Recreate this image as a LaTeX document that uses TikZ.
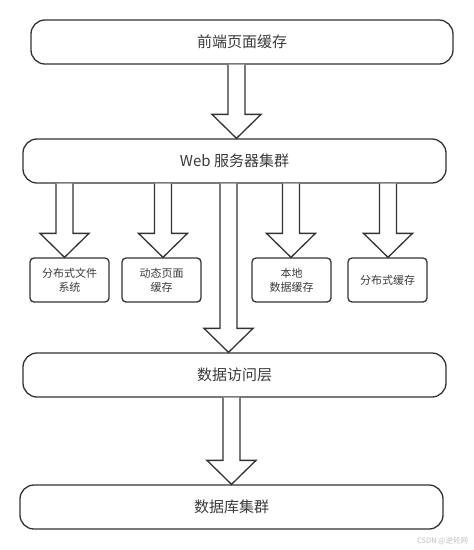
\documentclass[tikz,border=0pt]{standalone}
\usepackage{fontspec}
\setmainfont{Noto Sans CJK SC}
\usetikzlibrary{calc}

\tikzset{
  layer/.style={draw=linegray, rounded corners=14pt, minimum width=423pt, minimum height=44pt,
    inner sep=0pt, text=textgray, font=\fontsize{15}{18}\selectfont},
  part/.style={draw=linegray, rounded corners=4pt, minimum width=79pt, minimum height=44pt,
    inner sep=0pt, align=center, text=textgray, font=\fontsize{11}{14}\selectfont},
  hollow/.style={draw=linegray, fill=white, line join=miter},
}
\definecolor{linegray}{HTML}{333333}
\definecolor{textgray}{HTML}{3A3A3A}

% hollow block arrow: x position, from node, to node
\newcommand{\hollowarrow}[3]{%
  \coordinate (ax) at (#1,0);
  \draw[hollow] ($(ax |- #2.south)+(-8.5,0)$) -- ($(ax |- #3.north)+(-8.5,-24)$) -- ++(-16,0)
    -- (ax |- #3.north) -- ($(ax |- #3.north)+(24.5,-24)$) -- ++(-16,0) -- ($(ax |- #2.south)+(8.5,0)$);
}

\begin{document}
\begin{tikzpicture}[line width=1.3pt, x=1pt, y=-1pt]
  \useasboundingbox (0,0) rectangle (474,550);
  \node[layer, minimum width=422pt] (front) at (242,42) {前端页面缓存};
  \node[layer] (web) at (234.5,161) {Web 服务器集群};
  \node[part] (dfs) at (69.5,280) {分布式文件\\系统};
  \node[part] (dyn) at (161.5,280) {动态页面\\缓存};
  \node[part] (local) at (291.5,280) {本地\\数据缓存};
  \node[part] (dcache) at (387.5,280) {分布式缓存};
  \node[layer] (dao) at (234.5,375) {数据访问层};
  \node[layer] (db) at (231.5,507) {数据库集群};

  \hollowarrow{236.5}{front}{web}
  \hollowarrow{64.5}{web}{dfs}
  \hollowarrow{163}{web}{dyn}
  \hollowarrow{228.5}{web}{dao}
  \hollowarrow{291}{web}{local}
  \hollowarrow{388}{web}{dcache}
  \hollowarrow{231.5}{dao}{db}

  \node[text=black!25, font=\fontsize{7.5}{9}\selectfont, anchor=east] (mark) at (472,541) {CSDN @逆轮网};
\end{tikzpicture}
\end{document}
